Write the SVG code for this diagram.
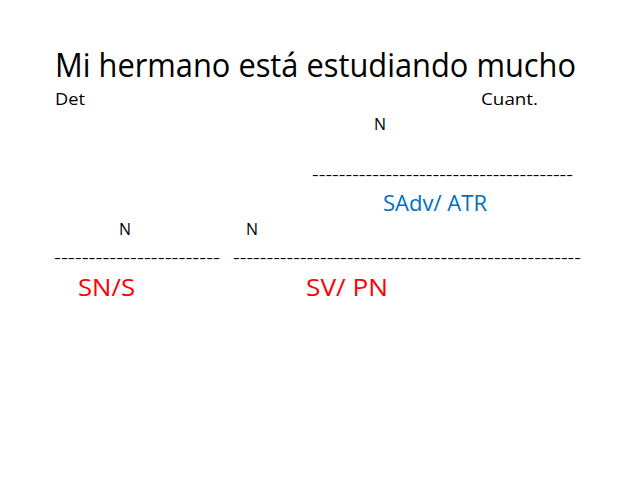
<svg xmlns="http://www.w3.org/2000/svg" width="640" height="480" viewBox="0 0 640 480">
<style>
text{font-family:"Open Sans","Noto Sans",sans-serif;fill:#000}
.s{font-size:16px}
.d{font-size:15px}
.red{fill:#FF0000;font-size:24px}
.blue{fill:#0070C0;font-size:21px}
</style>
<rect width="640" height="480" fill="#fff"/>
<g id="title"><text x="55" y="77" font-size="32" textLength="521" lengthAdjust="spacingAndGlyphs">Mi hermano está estudiando mucho</text></g>
<g id="det"><text class="s" x="55" y="105" textLength="30" lengthAdjust="spacingAndGlyphs">Det</text></g>
<g id="cuant"><text class="s" x="481" y="105" textLength="57" lengthAdjust="spacingAndGlyphs">Cuant.</text></g>
<g id="n1"><text class="s" x="374" y="130" textLength="12" lengthAdjust="spacingAndGlyphs">N</text></g>
<g id="sadv">
<text class="d" x="312" y="180" textLength="261" lengthAdjust="spacingAndGlyphs">---------------------------------------</text>
<text class="blue" x="383" y="211" textLength="104" lengthAdjust="spacingAndGlyphs">SAdv/ ATR</text>
</g>
<g id="n2"><text class="s" x="119" y="235" textLength="12" lengthAdjust="spacingAndGlyphs">N</text></g>
<g id="n3"><text class="s" x="246" y="235" textLength="12" lengthAdjust="spacingAndGlyphs">N</text></g>
<g id="sn">
<text class="d" x="54" y="263" textLength="166" lengthAdjust="spacingAndGlyphs">------------------------</text>
<text class="red" x="78" y="296" textLength="57" lengthAdjust="spacingAndGlyphs">SN/S</text>
</g>
<g id="sv">
<text class="d" x="233" y="263" textLength="348" lengthAdjust="spacingAndGlyphs">----------------------------------------------------</text>
<text class="red" x="306" y="296" textLength="82" lengthAdjust="spacingAndGlyphs">SV/ PN</text>
</g>
</svg>
